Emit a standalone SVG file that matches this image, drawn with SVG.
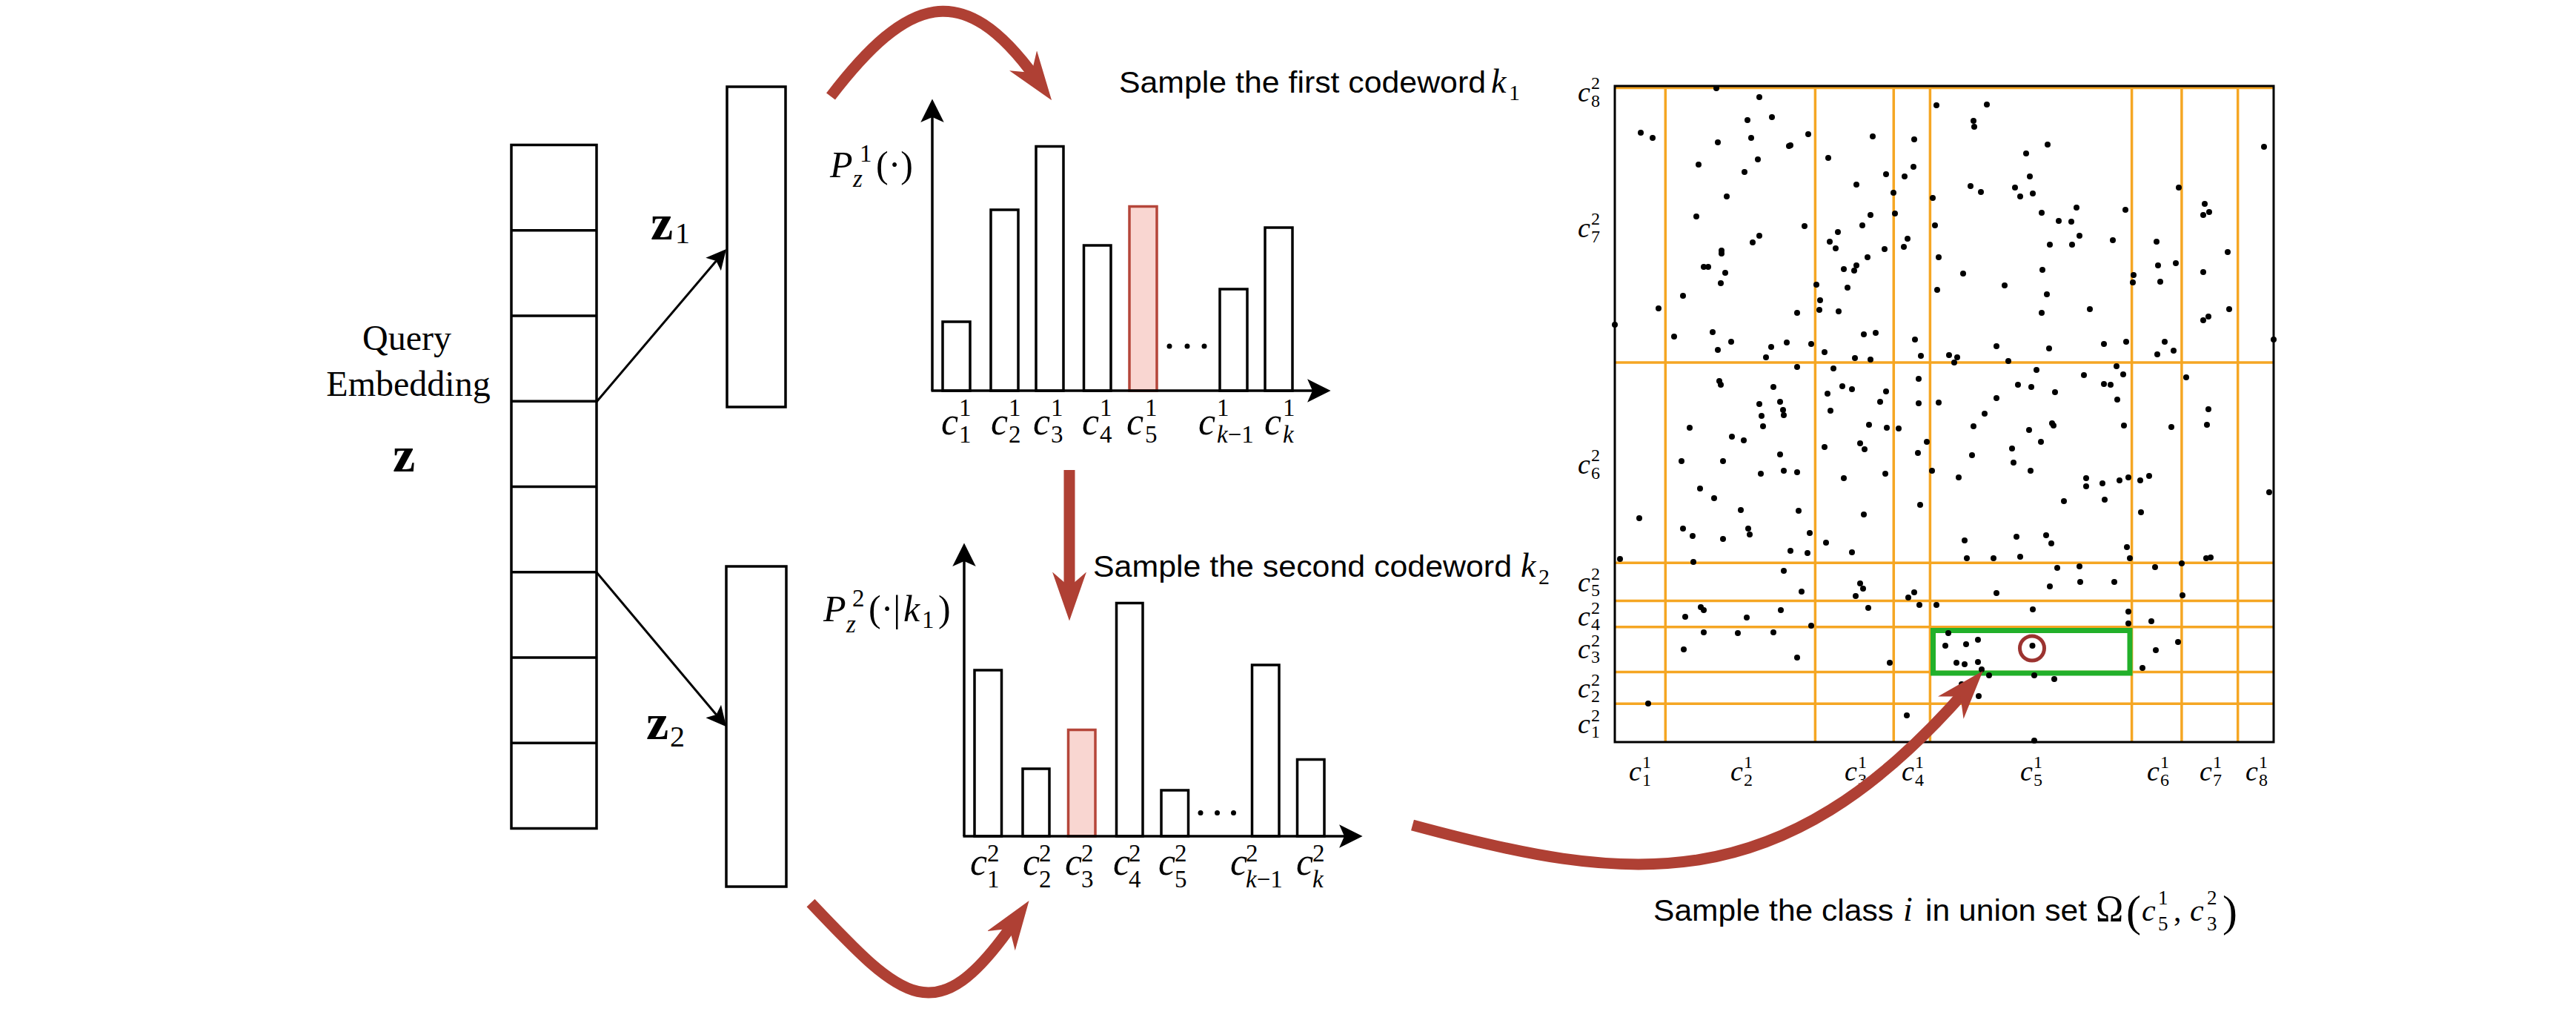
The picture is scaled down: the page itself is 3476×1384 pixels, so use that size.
<svg xmlns="http://www.w3.org/2000/svg" width="3476" height="1384" viewBox="0 0 3476 1384">
<style>
.box{fill:#fff;stroke:#000;stroke-width:3.5}
.ln{fill:none;stroke:#000;stroke-width:3.5}
.cn{fill:none;stroke:#000;stroke-width:3}
.sel{fill:#F9D6D1;stroke:#B5463A;stroke-width:3.5}
.red{fill:none;stroke:#AF4034;stroke-width:15}
.og{stroke:#F5A623;stroke-width:3.5}
.pt{fill:#000}
.sans{font-family:"Liberation Sans",Arial,sans-serif;font-size:40px;fill:#000}
.rm{font-family:"Liberation Serif","Times New Roman",serif;fill:#000}
.it{font-family:"Liberation Serif","Times New Roman",serif;font-style:italic;fill:#000}
.bf{font-family:"Liberation Serif","Times New Roman",serif;font-weight:bold;fill:#000}
.cL{font-size:52px}.sL{font-size:33px}
.cS{font-size:38px}.sS{font-size:24px}
</style>
<defs>
<marker id="ah" viewBox="0 0 32 32" refX="7" refY="16" markerWidth="9" markerHeight="9" orient="auto" markerUnits="strokeWidth"><path d="M0,0 L32,16 L0,32 L7,16 Z" fill="#000"/></marker>
<marker id="rh" viewBox="0 0 66 46" refX="30" refY="23" markerWidth="66" markerHeight="46" orient="auto" markerUnits="userSpaceOnUse"><path d="M0,0 L66,23 L0,46 L20,23 Z" fill="#AF4034"/></marker>
</defs>
<rect width="3476" height="1384" fill="#fff"/>

<g id="query-embedding">
<rect class="box" x="690" y="195.5" width="115" height="922"/>
<path class="ln" d="M690,310.75H805M690,426H805M690,541.25H805M690,656.5H805M690,771.75H805M690,887H805M690,1002.25H805"/>
<text class="rm" x="549" y="472" font-size="48" text-anchor="middle">Query</text>
<text class="rm" x="551" y="534" font-size="48" text-anchor="middle">Embedding</text>
<text class="bf" x="545" y="636" font-size="68" text-anchor="middle">z</text>
</g>

<g id="z1">
<rect class="box" x="981" y="117" width="79" height="432"/>
<text class="bf" x="878" y="323" font-size="68">z</text>
<text class="rm" x="911" y="328" font-size="40">1</text>
</g>

<g id="z2">
<rect class="box" x="980" y="764" width="81" height="432"/>
<text class="bf" x="872" y="997" font-size="68">z</text>
<text class="rm" x="904" y="1007" font-size="40">2</text>
</g>

<g id="chart1">
<rect class="box" x="1272" y="434" width="37" height="93"/>
<rect class="box" x="1337" y="283" width="37" height="244"/>
<rect class="box" x="1398" y="197.5" width="37" height="329.5"/>
<rect class="box" x="1462.5" y="331" width="36.5" height="196"/>
<rect class="sel" x="1524" y="278.5" width="37" height="248.5"/>
<rect class="box" x="1646" y="390" width="37" height="137"/>
<rect class="box" x="1707" y="307" width="37" height="220"/>
<path class="ln" d="M1258,527V158" marker-end="url(#ah)"/>
<path class="ln" d="M1256.5,527H1771" marker-end="url(#ah)"/>
<circle class="pt" cx="1578" cy="467" r="3.5"/><circle class="pt" cx="1602" cy="467" r="3.5"/><circle class="pt" cx="1625" cy="467" r="3.5"/>
<text class="it" x="1120" y="239" font-size="50">P</text>
<text class="rm sL" x="1160" y="218">1</text>
<text class="it sL" x="1151" y="252">z</text>
<text class="rm" x="1182" y="239" font-size="50">(·)</text>
<g class="lbl">
<text class="it cL" x="1270" y="586">c</text><text class="rm sL" x="1294" y="561">1</text><text class="rm sL" x="1294" y="597">1</text>
<text class="it cL" x="1337" y="586">c</text><text class="rm sL" x="1361" y="561">1</text><text class="rm sL" x="1361" y="597">2</text>
<text class="it cL" x="1394" y="586">c</text><text class="rm sL" x="1418" y="561">1</text><text class="rm sL" x="1418" y="597">3</text>
<text class="it cL" x="1460" y="586">c</text><text class="rm sL" x="1484" y="561">1</text><text class="rm sL" x="1484" y="597">4</text>
<text class="it cL" x="1520" y="586">c</text><text class="rm sL" x="1545" y="561">1</text><text class="rm sL" x="1545" y="597">5</text>
<text class="it cL" x="1617" y="586">c</text><text class="rm sL" x="1642" y="561">1</text><text class="rm sL" x="1642" y="597"><tspan class="it">k</tspan>−1</text>
<text class="it cL" x="1706" y="586">c</text><text class="rm sL" x="1731" y="561">1</text><text class="it sL" x="1731" y="597">k</text>
</g>
</g>

<g id="chart2">
<rect class="box" x="1315" y="904" width="36.5" height="224"/>
<rect class="box" x="1380" y="1037" width="36" height="91"/>
<rect class="sel" x="1441.5" y="984.5" width="36.5" height="143.5"/>
<rect class="box" x="1506.5" y="813.5" width="35.5" height="314.5"/>
<rect class="box" x="1567" y="1066" width="36.5" height="62"/>
<rect class="box" x="1689.5" y="897" width="36.5" height="231"/>
<rect class="box" x="1750.5" y="1024.5" width="36.5" height="103.5"/>
<path class="ln" d="M1301,1128V757" marker-end="url(#ah)"/>
<path class="ln" d="M1299.5,1128H1814" marker-end="url(#ah)"/>
<circle class="pt" cx="1620" cy="1096.5" r="3.5"/><circle class="pt" cx="1642.5" cy="1096.5" r="3.5"/><circle class="pt" cx="1664.5" cy="1096.5" r="3.5"/>
<text class="it" x="1111" y="838" font-size="50">P</text>
<text class="rm sL" x="1150" y="818">2</text>
<text class="it sL" x="1142" y="853">z</text>
<text class="rm" x="1172" y="838" font-size="50">(·|</text>
<text class="it" x="1219" y="838" font-size="50">k</text>
<text class="rm sL" x="1244" y="847">1</text>
<text class="rm" x="1266" y="838" font-size="50">)</text>
<g class="lbl">
<text class="it cL" x="1309" y="1179.5">c</text><text class="rm sL" x="1332" y="1162">2</text><text class="rm sL" x="1332" y="1197">1</text>
<text class="it cL" x="1380" y="1179.5">c</text><text class="rm sL" x="1402" y="1162">2</text><text class="rm sL" x="1402" y="1197">2</text>
<text class="it cL" x="1437" y="1179.5">c</text><text class="rm sL" x="1459" y="1162">2</text><text class="rm sL" x="1459" y="1197">3</text>
<text class="it cL" x="1502" y="1179.5">c</text><text class="rm sL" x="1523" y="1162">2</text><text class="rm sL" x="1523" y="1197">4</text>
<text class="it cL" x="1563" y="1179.5">c</text><text class="rm sL" x="1585" y="1162">2</text><text class="rm sL" x="1585" y="1197">5</text>
<text class="it cL" x="1660" y="1179.5">c</text><text class="rm sL" x="1681" y="1162">2</text><text class="rm sL" x="1681" y="1197"><tspan class="it">k</tspan>−1</text>
<text class="it cL" x="1749" y="1179.5">c</text><text class="rm sL" x="1771" y="1162">2</text><text class="it sL" x="1771" y="1197">k</text>
</g>
</g>

<g id="grid">
<g class="og">
<path d="M2247.3,116V1001M2449.4,116V1001M2555.3,116V1001M2604.4,116V1001M2876.6,116V1001M2943.9,116V1001M3019.7,116V1001"/>
<path d="M2179,118.5H3068M2179,489H3068M2179,759.3H3068M2179,810.4H3068M2179,845.7H3068M2179,906.4H3068M2179,949.3H3068"/>
</g>
<rect x="2608.5" y="850.5" width="265.5" height="57.5" fill="none" stroke="#22B02A" stroke-width="7"/>
<g id="points">
<circle class="pt" cx="2316" cy="119" r="4"/><circle class="pt" cx="2374" cy="131" r="4"/><circle class="pt" cx="2613" cy="142" r="4"/><circle class="pt" cx="2681" cy="141" r="4"/><circle class="pt" cx="2358" cy="162" r="4"/><circle class="pt" cx="2391" cy="158" r="4"/><circle class="pt" cx="2663" cy="163" r="4"/><circle class="pt" cx="2664" cy="171" r="4"/><circle class="pt" cx="2214" cy="179" r="4"/><circle class="pt" cx="2230" cy="186" r="4"/><circle class="pt" cx="2318" cy="192" r="4"/><circle class="pt" cx="2363" cy="186" r="4"/><circle class="pt" cx="2440" cy="181" r="4"/><circle class="pt" cx="2527" cy="184" r="4"/><circle class="pt" cx="2583" cy="188" r="4"/><circle class="pt" cx="2414" cy="197" r="4"/><circle class="pt" cx="2416" cy="196" r="4"/><circle class="pt" cx="2763" cy="195" r="4"/><circle class="pt" cx="3055" cy="198" r="4"/><circle class="pt" cx="2734" cy="207" r="4"/><circle class="pt" cx="2292" cy="222" r="4"/><circle class="pt" cx="2372" cy="215" r="4"/><circle class="pt" cx="2467" cy="213" r="4"/><circle class="pt" cx="2582" cy="225" r="4"/><circle class="pt" cx="2354" cy="232" r="4"/><circle class="pt" cx="2545" cy="235" r="4"/><circle class="pt" cx="2570" cy="238" r="4"/><circle class="pt" cx="2739" cy="238" r="4"/><circle class="pt" cx="2505" cy="249" r="4"/><circle class="pt" cx="2659" cy="251" r="4"/><circle class="pt" cx="2673" cy="259" r="4"/><circle class="pt" cx="2719" cy="253" r="4"/><circle class="pt" cx="2726" cy="265" r="4"/><circle class="pt" cx="2743" cy="261" r="4"/><circle class="pt" cx="2940" cy="253" r="4"/><circle class="pt" cx="2555" cy="260" r="4"/><circle class="pt" cx="2608" cy="267" r="4"/><circle class="pt" cx="2330" cy="265" r="4"/><circle class="pt" cx="2975" cy="275" r="4"/><circle class="pt" cx="2973" cy="290" r="4"/><circle class="pt" cx="2981" cy="286" r="4"/><circle class="pt" cx="2802" cy="280" r="4"/><circle class="pt" cx="2868" cy="283" r="4"/><circle class="pt" cx="2755" cy="287" r="4"/><circle class="pt" cx="2778" cy="298" r="4"/><circle class="pt" cx="2795" cy="299" r="4"/><circle class="pt" cx="2524" cy="290" r="4"/><circle class="pt" cx="2557" cy="288" r="4"/><circle class="pt" cx="2289" cy="292" r="4"/><circle class="pt" cx="2435" cy="305" r="4"/><circle class="pt" cx="2513" cy="304" r="4"/><circle class="pt" cx="2611" cy="304" r="4"/><circle class="pt" cx="2480" cy="313" r="4"/><circle class="pt" cx="2806" cy="318" r="4"/><circle class="pt" cx="2851" cy="324" r="4"/><circle class="pt" cx="2910" cy="326" r="4"/><circle class="pt" cx="2374" cy="318" r="4"/><circle class="pt" cx="2365" cy="327" r="4"/><circle class="pt" cx="2469" cy="326" r="4"/><circle class="pt" cx="2477" cy="335" r="4"/><circle class="pt" cx="2574" cy="322" r="4"/><circle class="pt" cx="2569" cy="333" r="4"/><circle class="pt" cx="2543" cy="336" r="4"/><circle class="pt" cx="2766" cy="330" r="4"/><circle class="pt" cx="2796" cy="330" r="4"/><circle class="pt" cx="2323" cy="338" r="4"/><circle class="pt" cx="2323" cy="342" r="4"/><circle class="pt" cx="3006" cy="340" r="4"/><circle class="pt" cx="2520" cy="347" r="4"/><circle class="pt" cx="2616" cy="347" r="4"/><circle class="pt" cx="2505" cy="358" r="4"/><circle class="pt" cx="2488" cy="363" r="4"/><circle class="pt" cx="2502" cy="365" r="4"/><circle class="pt" cx="2912" cy="358" r="4"/><circle class="pt" cx="2936" cy="355" r="4"/><circle class="pt" cx="2973" cy="367" r="4"/><circle class="pt" cx="2299" cy="360" r="4"/><circle class="pt" cx="2305" cy="360" r="4"/><circle class="pt" cx="2328" cy="368" r="4"/><circle class="pt" cx="2756" cy="364" r="4"/><circle class="pt" cx="2649" cy="369" r="4"/><circle class="pt" cx="2879" cy="371" r="4"/><circle class="pt" cx="2878" cy="381" r="4"/><circle class="pt" cx="2915" cy="380" r="4"/><circle class="pt" cx="2322" cy="382" r="4"/><circle class="pt" cx="2451" cy="384" r="4"/><circle class="pt" cx="2493" cy="388" r="4"/><circle class="pt" cx="2705" cy="385" r="4"/><circle class="pt" cx="2614" cy="391" r="4"/><circle class="pt" cx="2271" cy="399" r="4"/><circle class="pt" cx="2762" cy="397" r="4"/><circle class="pt" cx="2456" cy="405" r="4"/><circle class="pt" cx="2238" cy="416" r="4"/><circle class="pt" cx="2425" cy="422" r="4"/><circle class="pt" cx="2455" cy="418" r="4"/><circle class="pt" cx="2481" cy="420" r="4"/><circle class="pt" cx="2755" cy="422" r="4"/><circle class="pt" cx="2820" cy="417" r="4"/><circle class="pt" cx="3008" cy="417" r="4"/><circle class="pt" cx="2980" cy="427" r="4"/><circle class="pt" cx="2973" cy="432" r="4"/><circle class="pt" cx="2179" cy="438" r="4"/><circle class="pt" cx="3068" cy="458" r="4"/><circle class="pt" cx="2259" cy="454" r="4"/><circle class="pt" cx="2311" cy="448" r="4"/><circle class="pt" cx="2515" cy="451" r="4"/><circle class="pt" cx="2531" cy="449" r="4"/><circle class="pt" cx="2584" cy="458" r="4"/><circle class="pt" cx="2336" cy="461" r="4"/><circle class="pt" cx="2411" cy="462" r="4"/><circle class="pt" cx="2444" cy="464" r="4"/><circle class="pt" cx="2318" cy="472" r="4"/><circle class="pt" cx="2390" cy="468" r="4"/><circle class="pt" cx="2462" cy="475" r="4"/><circle class="pt" cx="2694" cy="467" r="4"/><circle class="pt" cx="2765" cy="470" r="4"/><circle class="pt" cx="2839" cy="464" r="4"/><circle class="pt" cx="2869" cy="461" r="4"/><circle class="pt" cx="2921" cy="461" r="4"/><circle class="pt" cx="2911" cy="478" r="4"/><circle class="pt" cx="2933" cy="473" r="4"/><circle class="pt" cx="2383" cy="482" r="4"/><circle class="pt" cx="2503" cy="483" r="4"/><circle class="pt" cx="2524" cy="485" r="4"/><circle class="pt" cx="2592" cy="480" r="4"/><circle class="pt" cx="2630" cy="479" r="4"/><circle class="pt" cx="2641" cy="482" r="4"/><circle class="pt" cx="2637" cy="489" r="4"/><circle class="pt" cx="2710" cy="487" r="4"/><circle class="pt" cx="2425" cy="495" r="4"/><circle class="pt" cx="2474" cy="497" r="4"/><circle class="pt" cx="2748" cy="499" r="4"/><circle class="pt" cx="2812" cy="506" r="4"/><circle class="pt" cx="2856" cy="494" r="4"/><circle class="pt" cx="2865" cy="505" r="4"/><circle class="pt" cx="2950" cy="509" r="4"/><circle class="pt" cx="2320" cy="514" r="4"/><circle class="pt" cx="2322" cy="519" r="4"/><circle class="pt" cx="2393" cy="522" r="4"/><circle class="pt" cx="2486" cy="521" r="4"/><circle class="pt" cx="2499" cy="525" r="4"/><circle class="pt" cx="2545" cy="528" r="4"/><circle class="pt" cx="2589" cy="511" r="4"/><circle class="pt" cx="2723" cy="519" r="4"/><circle class="pt" cx="2741" cy="522" r="4"/><circle class="pt" cx="2773" cy="529" r="4"/><circle class="pt" cx="2839" cy="518" r="4"/><circle class="pt" cx="2848" cy="519" r="4"/><circle class="pt" cx="2466" cy="531" r="4"/><circle class="pt" cx="2694" cy="537" r="4"/><circle class="pt" cx="2857" cy="539" r="4"/><circle class="pt" cx="2374" cy="545" r="4"/><circle class="pt" cx="2402" cy="542" r="4"/><circle class="pt" cx="2537" cy="542" r="4"/><circle class="pt" cx="2589" cy="544" r="4"/><circle class="pt" cx="2616" cy="543" r="4"/><circle class="pt" cx="2406" cy="553" r="4"/><circle class="pt" cx="2407" cy="560" r="4"/><circle class="pt" cx="2377" cy="561" r="4"/><circle class="pt" cx="2470" cy="554" r="4"/><circle class="pt" cx="2678" cy="558" r="4"/><circle class="pt" cx="2980" cy="552" r="4"/><circle class="pt" cx="2280" cy="577" r="4"/><circle class="pt" cx="2379" cy="575" r="4"/><circle class="pt" cx="2522" cy="573" r="4"/><circle class="pt" cx="2546" cy="577" r="4"/><circle class="pt" cx="2562" cy="578" r="4"/><circle class="pt" cx="2663" cy="575" r="4"/><circle class="pt" cx="2769" cy="571" r="4"/><circle class="pt" cx="2771" cy="574" r="4"/><circle class="pt" cx="2866" cy="574" r="4"/><circle class="pt" cx="2930" cy="576" r="4"/><circle class="pt" cx="2978" cy="573" r="4"/><circle class="pt" cx="2738" cy="580" r="4"/>
<circle class="pt" cx="2337" cy="589" r="4"/><circle class="pt" cx="2353" cy="594" r="4"/><circle class="pt" cx="2462" cy="603" r="4"/><circle class="pt" cx="2510" cy="598" r="4"/><circle class="pt" cx="2516" cy="606" r="4"/><circle class="pt" cx="2600" cy="596" r="4"/><circle class="pt" cx="2588" cy="611" r="4"/><circle class="pt" cx="2715" cy="605" r="4"/><circle class="pt" cx="2754" cy="596" r="4"/><circle class="pt" cx="2402" cy="613" r="4"/><circle class="pt" cx="2269" cy="622" r="4"/><circle class="pt" cx="2325" cy="622" r="4"/><circle class="pt" cx="2376" cy="639" r="4"/><circle class="pt" cx="2407" cy="635" r="4"/><circle class="pt" cx="2425" cy="637" r="4"/><circle class="pt" cx="2488" cy="645" r="4"/><circle class="pt" cx="2544" cy="639" r="4"/><circle class="pt" cx="2607" cy="635" r="4"/><circle class="pt" cx="2661" cy="614" r="4"/><circle class="pt" cx="2717" cy="624" r="4"/><circle class="pt" cx="2740" cy="635" r="4"/><circle class="pt" cx="2643" cy="644" r="4"/><circle class="pt" cx="2815" cy="645" r="4"/><circle class="pt" cx="2815" cy="656" r="4"/><circle class="pt" cx="2837" cy="652" r="4"/><circle class="pt" cx="2860" cy="648" r="4"/><circle class="pt" cx="2872" cy="644" r="4"/><circle class="pt" cx="2888" cy="648" r="4"/><circle class="pt" cx="2900" cy="642" r="4"/><circle class="pt" cx="3062" cy="664" r="4"/><circle class="pt" cx="2294" cy="659" r="4"/><circle class="pt" cx="2313" cy="672" r="4"/><circle class="pt" cx="2349" cy="688" r="4"/><circle class="pt" cx="2427" cy="689" r="4"/><circle class="pt" cx="2515" cy="694" r="4"/><circle class="pt" cx="2591" cy="681" r="4"/><circle class="pt" cx="2785" cy="676" r="4"/><circle class="pt" cx="2840" cy="674" r="4"/><circle class="pt" cx="2889" cy="691" r="4"/><circle class="pt" cx="2212" cy="699" r="4"/><circle class="pt" cx="2271" cy="713" r="4"/><circle class="pt" cx="2284" cy="723" r="4"/><circle class="pt" cx="2359" cy="713" r="4"/><circle class="pt" cx="2361" cy="721" r="4"/><circle class="pt" cx="2325" cy="727" r="4"/><circle class="pt" cx="2442" cy="719" r="4"/><circle class="pt" cx="2464" cy="732" r="4"/><circle class="pt" cx="2499" cy="745" r="4"/><circle class="pt" cx="2416" cy="743" r="4"/><circle class="pt" cx="2439" cy="746" r="4"/><circle class="pt" cx="2651" cy="729" r="4"/><circle class="pt" cx="2721" cy="724" r="4"/><circle class="pt" cx="2761" cy="722" r="4"/><circle class="pt" cx="2768" cy="733" r="4"/><circle class="pt" cx="2654" cy="753" r="4"/><circle class="pt" cx="2690" cy="753" r="4"/><circle class="pt" cx="2726" cy="751" r="4"/><circle class="pt" cx="2870" cy="738" r="4"/><circle class="pt" cx="2874" cy="753" r="4"/><circle class="pt" cx="2977" cy="753" r="4"/><circle class="pt" cx="2983" cy="752" r="4"/><circle class="pt" cx="2186" cy="754" r="4"/><circle class="pt" cx="2285" cy="758" r="4"/><circle class="pt" cx="2944" cy="760" r="4"/><circle class="pt" cx="2407" cy="770" r="4"/><circle class="pt" cx="2776" cy="766" r="4"/><circle class="pt" cx="2806" cy="764" r="4"/><circle class="pt" cx="2908" cy="765" r="4"/><circle class="pt" cx="2510" cy="787" r="4"/><circle class="pt" cx="2514" cy="794" r="4"/><circle class="pt" cx="2431" cy="798" r="4"/><circle class="pt" cx="2504" cy="804" r="4"/><circle class="pt" cx="2583" cy="799" r="4"/><circle class="pt" cx="2575" cy="806" r="4"/><circle class="pt" cx="2694" cy="800" r="4"/><circle class="pt" cx="2766" cy="791" r="4"/><circle class="pt" cx="2807" cy="785" r="4"/><circle class="pt" cx="2853" cy="785" r="4"/><circle class="pt" cx="2945" cy="803" r="4"/><circle class="pt" cx="2295" cy="819" r="4"/><circle class="pt" cx="2299" cy="823" r="4"/><circle class="pt" cx="2274" cy="832" r="4"/><circle class="pt" cx="2357" cy="833" r="4"/><circle class="pt" cx="2403" cy="823" r="4"/><circle class="pt" cx="2521" cy="820" r="4"/><circle class="pt" cx="2590" cy="816" r="4"/><circle class="pt" cx="2613" cy="816" r="4"/><circle class="pt" cx="2743" cy="822" r="4"/><circle class="pt" cx="2872" cy="825" r="4"/><circle class="pt" cx="2903" cy="838" r="4"/><circle class="pt" cx="2872" cy="841" r="4"/><circle class="pt" cx="2444" cy="844" r="4"/><circle class="pt" cx="2299" cy="853" r="4"/><circle class="pt" cx="2345" cy="854" r="4"/><circle class="pt" cx="2393" cy="853" r="4"/><circle class="pt" cx="2629" cy="854" r="4"/><circle class="pt" cx="2625" cy="871" r="4"/><circle class="pt" cx="2653" cy="869" r="4"/><circle class="pt" cx="2669" cy="863" r="4"/><circle class="pt" cx="2742.5" cy="871" r="4"/><circle class="pt" cx="2939" cy="866" r="4"/><circle class="pt" cx="2909" cy="877" r="4"/><circle class="pt" cx="2272" cy="876" r="4"/><circle class="pt" cx="2425" cy="887" r="4"/><circle class="pt" cx="2550" cy="894" r="4"/><circle class="pt" cx="2640" cy="894" r="4"/><circle class="pt" cx="2651" cy="896" r="4"/><circle class="pt" cx="2669" cy="893" r="4"/><circle class="pt" cx="2674" cy="903" r="4"/><circle class="pt" cx="2684" cy="911" r="4"/><circle class="pt" cx="2745" cy="911" r="4"/><circle class="pt" cx="2772" cy="916" r="4"/><circle class="pt" cx="2891" cy="901" r="4"/><circle class="pt" cx="2647" cy="923" r="4"/><circle class="pt" cx="2670" cy="939" r="4"/><circle class="pt" cx="2224" cy="949" r="4"/><circle class="pt" cx="2573" cy="965" r="4"/><circle class="pt" cx="2745" cy="999" r="4"/>
</g>
<circle cx="2742" cy="874.5" r="16.5" fill="none" stroke="#9C3330" stroke-width="5"/>
<rect x="2179" y="116" width="889" height="885" fill="none" stroke="#000" stroke-width="3"/>
<g id="grid-labels">
<text class="it cS" x="2198" y="1053">c</text><text class="rm sS" x="2216" y="1036">1</text><text class="rm sS" x="2216" y="1060">1</text>
<text class="it cS" x="2335" y="1053">c</text><text class="rm sS" x="2353" y="1036">1</text><text class="rm sS" x="2353" y="1060">2</text>
<text class="it cS" x="2489" y="1053">c</text><text class="rm sS" x="2507" y="1036">1</text><text class="rm sS" x="2507" y="1060">3</text>
<text class="it cS" x="2566" y="1053">c</text><text class="rm sS" x="2584" y="1036">1</text><text class="rm sS" x="2584" y="1060">4</text>
<text class="it cS" x="2726" y="1053">c</text><text class="rm sS" x="2744" y="1036">1</text><text class="rm sS" x="2744" y="1060">5</text>
<text class="it cS" x="2897" y="1053">c</text><text class="rm sS" x="2915" y="1036">1</text><text class="rm sS" x="2915" y="1060">6</text>
<text class="it cS" x="2968" y="1053">c</text><text class="rm sS" x="2986" y="1036">1</text><text class="rm sS" x="2986" y="1060">7</text>
<text class="it cS" x="3030" y="1053">c</text><text class="rm sS" x="3048" y="1036">1</text><text class="rm sS" x="3048" y="1060">8</text>
<text class="it cS" x="2129" y="137">c</text><text class="rm sS" x="2147" y="120">2</text><text class="rm sS" x="2147" y="144">8</text>
<text class="it cS" x="2129" y="320">c</text><text class="rm sS" x="2147" y="303">2</text><text class="rm sS" x="2147" y="327">7</text>
<text class="it cS" x="2129" y="639">c</text><text class="rm sS" x="2147" y="622">2</text><text class="rm sS" x="2147" y="646">6</text>
<text class="it cS" x="2129" y="798">c</text><text class="rm sS" x="2147" y="782">2</text><text class="rm sS" x="2147" y="804">5</text>
<text class="it cS" x="2129" y="844">c</text><text class="rm sS" x="2147" y="828">2</text><text class="rm sS" x="2147" y="850">4</text>
<text class="it cS" x="2129" y="888">c</text><text class="rm sS" x="2147" y="872">2</text><text class="rm sS" x="2147" y="894">3</text>
<text class="it cS" x="2129" y="941">c</text><text class="rm sS" x="2147" y="925">2</text><text class="rm sS" x="2147" y="947">2</text>
<text class="it cS" x="2129" y="989">c</text><text class="rm sS" x="2147" y="973">2</text><text class="rm sS" x="2147" y="995">1</text>
</g>
</g>

<g id="captions">
<text class="sans" x="1510" y="125" textLength="495" lengthAdjust="spacingAndGlyphs">Sample the first codeword</text>
<text class="it" x="2012" y="125" font-size="46">k</text><text class="rm" x="2036" y="135" font-size="30">1</text>
<text class="sans" x="1475" y="778" textLength="565" lengthAdjust="spacingAndGlyphs">Sample the second codeword</text>
<text class="it" x="2052" y="778" font-size="46">k</text><text class="rm" x="2076" y="788" font-size="30">2</text>
<text class="sans" x="2231" y="1242" textLength="324" lengthAdjust="spacingAndGlyphs">Sample the class</text>
<text class="it" x="2568" y="1242" font-size="46">i</text>
<text class="sans" x="2598" y="1242" textLength="218" lengthAdjust="spacingAndGlyphs">in union set</text>
<text class="rm" x="2828" y="1242" font-size="50">Ω</text>
<text class="rm" x="2869" y="1249" font-size="60">(</text>
<text class="it" x="2890" y="1242" font-size="42">c</text><text class="rm" x="2912" y="1220" font-size="27">1</text><text class="rm" x="2912" y="1255" font-size="27">5</text>
<text class="rm" x="2933" y="1242" font-size="42">,</text>
<text class="it" x="2955" y="1242" font-size="42">c</text><text class="rm" x="2978" y="1220" font-size="27">2</text><text class="rm" x="2978" y="1255" font-size="27">3</text>
<text class="rm" x="2999" y="1249" font-size="60">)</text>
</g>

<g id="connectors">
<path class="cn" d="M805,542L966.4,352" marker-end="url(#ah)"/>
<path class="cn" d="M805,772L966.5,964" marker-end="url(#ah)"/>
<path class="red" stroke-width="16" d="M1121,130C1224,-4 1298.5,-31.7 1398,106" marker-end="url(#rh)"/>
<path class="red" stroke-width="14" d="M1443,634L1443,801.5" marker-end="url(#rh)"/>
<path class="red" stroke-width="14" d="M1094,1218C1219,1350 1263,1395.5 1368,1244.5" marker-end="url(#rh)"/>
<path class="red" d="M1906,1113C2194,1191 2400,1220 2652,932" marker-end="url(#rh)"/>
</g>
</svg>
